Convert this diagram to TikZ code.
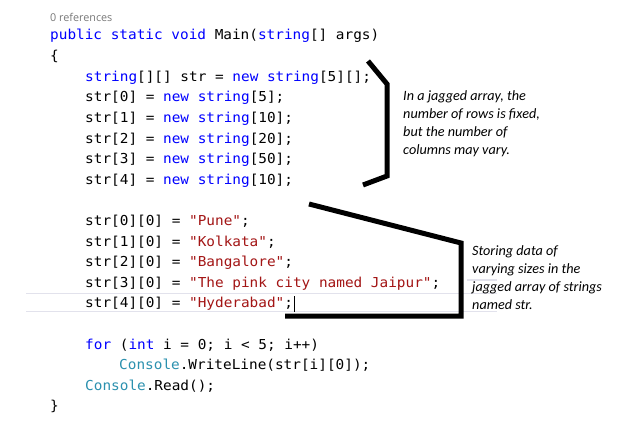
\documentclass[tikz,border=0pt]{standalone}
\usepackage{fontspec}
\usepackage{xcolor}
\setmonofont{DejaVu Sans Mono}[FakeStretch=1.05]
\newfontfamily\notefont{Carlito}
\newfontfamily\reffont{Open Sans}

\definecolor{kwblue}{RGB}{0,0,255}
\definecolor{litred}{RGB}{163,21,21}
\definecolor{typeteal}{RGB}{43,145,175}
\definecolor{refgray}{RGB}{120,120,120}
\definecolor{hilite}{RGB}{226,226,236}

\newcommand{\kw}[1]{\textcolor{kwblue}{#1}}
\newcommand{\lit}[1]{\textcolor{litred}{#1}}
\newcommand{\tp}[1]{\textcolor{typeteal}{#1}}

\tikzset{
  code/.style={anchor=base west, inner sep=0pt,
               font=\ttfamily\fontsize{13.7}{16}\selectfont},
  note/.style={anchor=north west, inner sep=0pt, align=left,
               font=\notefont\itshape\fontsize{14.2}{18}\selectfont},
  bracket/.style={line width=5pt, miter limit=10}
}

\begin{document}
\begin{tikzpicture}[x=1pt,y=-1pt]

    \useasboundingbox[fill=white] (0,0) rectangle (620,425);

    % -- Current line highlight --
    \draw[hilite, line width=1.2pt] (26,293.5) -- (497,293.5);
    \draw[hilite, line width=1.2pt] (26,311.5) -- (497,311.5);
    \draw[hilite, line width=1.2pt] (467,280) -- (497,280);

    % -- Code lens above the method --
    \node[anchor=base west, inner sep=0pt, text=refgray,
          font=\reffont\fontsize{10.8}{12}\selectfont] (refs) at (50,21.3)
        {0 references};

    % -- Method header --
    \node[code] (head) at (50,40)
        {\kw{public static void} Main(\kw{string}[] args)};
    \node[code] (open) at (50,60.6) {\{};

    % -- Allocation of the rows --
    \node[code] (decl) at (85,81.2)
        {\kw{string}[][] str = \kw{new string}[5][];};
    \node[code] (row0) at (85,101.8) {str[0] = \kw{new string}[5];};
    \node[code] (row1) at (85,122.4) {str[1] = \kw{new string}[10];};
    \node[code] (row2) at (85,143) {str[2] = \kw{new string}[20];};
    \node[code] (row3) at (85,163.6) {str[3] = \kw{new string}[50];};
    \node[code] (row4) at (85,184.2) {str[4] = \kw{new string}[10];};

    % -- Storing the data --
    \node[code] (set0) at (85,225.4) {str[0][0] = \lit{"Pune"};};
    \node[code] (set1) at (85,246) {str[1][0] = \lit{"Kolkata"};};
    \node[code] (set2) at (85,266.6) {str[2][0] = \lit{"Bangalore"};};
    \node[code] (set3) at (85,287.2)
        {str[3][0] = \lit{"The pink city named Jaipur"};};
    \node[code] (set4) at (85,307.8) {str[4][0] = \lit{"Hyderabad"};};

    % text cursor
    \draw[line width=0.8pt] ([xshift=1.5pt]set4.base east) ++(0,4) -- ++(0,-16);

    % -- Output loop --
    \node[code] (loop) at (85,349)
        {\kw{for} (\kw{int} i = 0; i < 5; i++)};
    \node[code] (print) at (119,369.6)
        {\tp{Console}.WriteLine(str[i][0]);};
    \node[code] (read) at (85,390.2) {\tp{Console}.Read();};
    \node[code] (close) at (50,410.8) {\}};

    % -- Hand drawn brackets --
    \draw[bracket] (368,61) -- (387,84) -- (387,176) -- (363,185);
    \draw[bracket] (309,204) -- (461,243) -- (461,316) -- (285,316);

    % -- Notes --
    \node[note] (note1) at (403,90)
        {In a jagged array, the\\number of rows is fixed,\\
         but the number of\\columns may vary.};
    \node[note] (note2) at (472,245.5)
        {Storing data of\\varying sizes in the\\
         jagged array of strings\\named str.};

\end{tikzpicture}
\end{document}
